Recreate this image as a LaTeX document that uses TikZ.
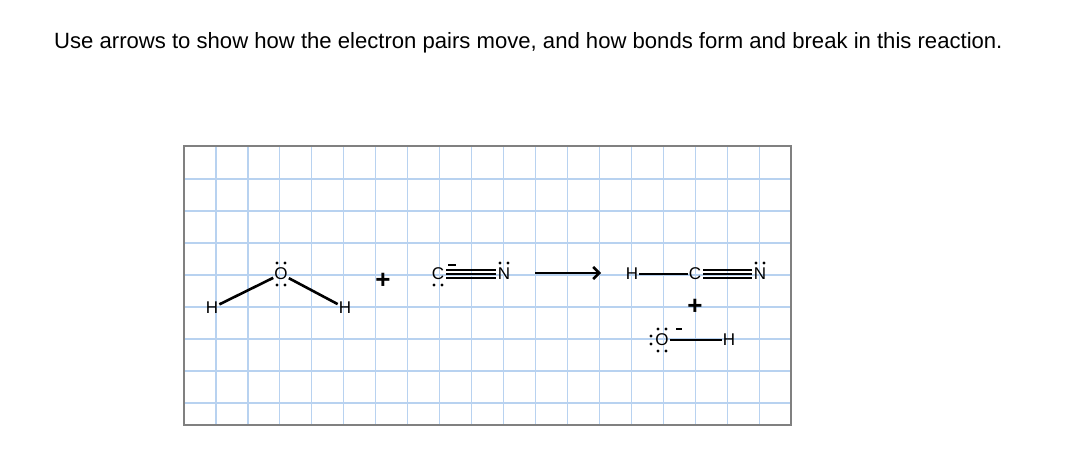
\documentclass[tikz,border=0pt]{standalone}
\usepackage{fontspec}
\usetikzlibrary{arrows.meta}
\setmainfont{Liberation Sans}
\definecolor{gridblue}{RGB}{184,210,240}
\begin{document}
\begin{tikzpicture}[x=1pt,y=1pt,
  atom/.style={font=\fontsize{17}{17}\selectfont, inner sep=1pt},
  bond/.style={line width=2.6pt},
  tbond/.style={line width=1.2pt},
  dot/.style={fill=black,circle,inner sep=0pt,minimum size=3.2pt},
  plus/.style={font=\fontsize{26}{26}\selectfont\bfseries, inner sep=0pt},
  gridl/.style={draw=gridblue,line width=1.2pt}]
\useasboundingbox (0,0) rectangle (1086,-474);
\node[font=\fontsize{22.1}{22}\selectfont,anchor=west,inner sep=0pt] (title) at (54,-43) {Use arrows to show how the electron pairs move, and how bonds form and break in this reaction.};
% grid
\foreach \i in {0,...,18} \draw[gridl] ({184+31.95*\i},-146) -- ({184+31.95*\i},-425);
\foreach \j in {1,...,8} \draw[gridl] (184,{-147-32*\j}) -- (791,{-147-32*\j});
\draw[gray,line width=1.4pt] (184,-146) rectangle (791,-425);
% water
\node[atom] (O1) at (281,-274) {O};
\node[atom] (H1) at (212,-308) {H};
\node[atom] (H2) at (345,-308) {H};
\draw[bond] (O1) -- (H1);
\draw[bond] (O1) -- (H2);
\node[dot] at (277,-263) {};\node[dot] at (285,-263) {};
\node[dot] at (277,-285) {};\node[dot] at (285,-285) {};
\node[plus] (p1) at (383,-281) {+};
% cyanide
\node[atom] (C1) at (438,-274) {C};
\node[atom] (N1) at (504,-274) {N};
\draw[tbond] ([xshift=1pt,yshift=4pt]C1.east) -- ([xshift=-1pt,yshift=4pt]N1.west);
\draw[tbond] ([xshift=1pt]C1.east) -- ([xshift=-1pt]N1.west);
\draw[tbond] ([xshift=1pt,yshift=-4pt]C1.east) -- ([xshift=-1pt,yshift=-4pt]N1.west);
\draw[tbond] (448,-265) -- (456,-265);
\node[dot] at (434,-285) {};\node[dot] at (442,-285) {};
\node[dot] at (500,-263) {};\node[dot] at (508,-263) {};
% arrow
\coordinate (a1) at (535,-273);
\coordinate (a2) at (601,-273);
\draw[line width=2.6pt,-{Straight Barb[length=6pt,width=12pt]}] (a1) -- (a2);
% HCN
\node[atom] (H3) at (632,-274) {H};
\node[atom] (C2) at (695,-274) {C};
\node[atom] (N2) at (760,-274) {N};
\draw[bond] (H3) -- (C2);
\draw[tbond] ([xshift=1pt,yshift=4pt]C2.east) -- ([xshift=-1pt,yshift=4pt]N2.west);
\draw[tbond] ([xshift=1pt]C2.east) -- ([xshift=-1pt]N2.west);
\draw[tbond] ([xshift=1pt,yshift=-4pt]C2.east) -- ([xshift=-1pt,yshift=-4pt]N2.west);
\node[dot] at (756,-263) {};\node[dot] at (764,-263) {};
\node[plus] (p2) at (695,-307) {+};
% hydroxide
\node[atom] (O2) at (662,-340) {O};
\node[atom] (H4) at (729,-340) {H};
\draw[bond] (O2) -- (H4);
\draw[tbond] (676,-329) -- (682,-329);
\node[dot] at (658,-329) {};\node[dot] at (666,-329) {};
\node[dot] at (658,-351) {};\node[dot] at (666,-351) {};
\node[dot] at (651,-336) {};\node[dot] at (651,-344) {};
\end{tikzpicture}
\end{document}
